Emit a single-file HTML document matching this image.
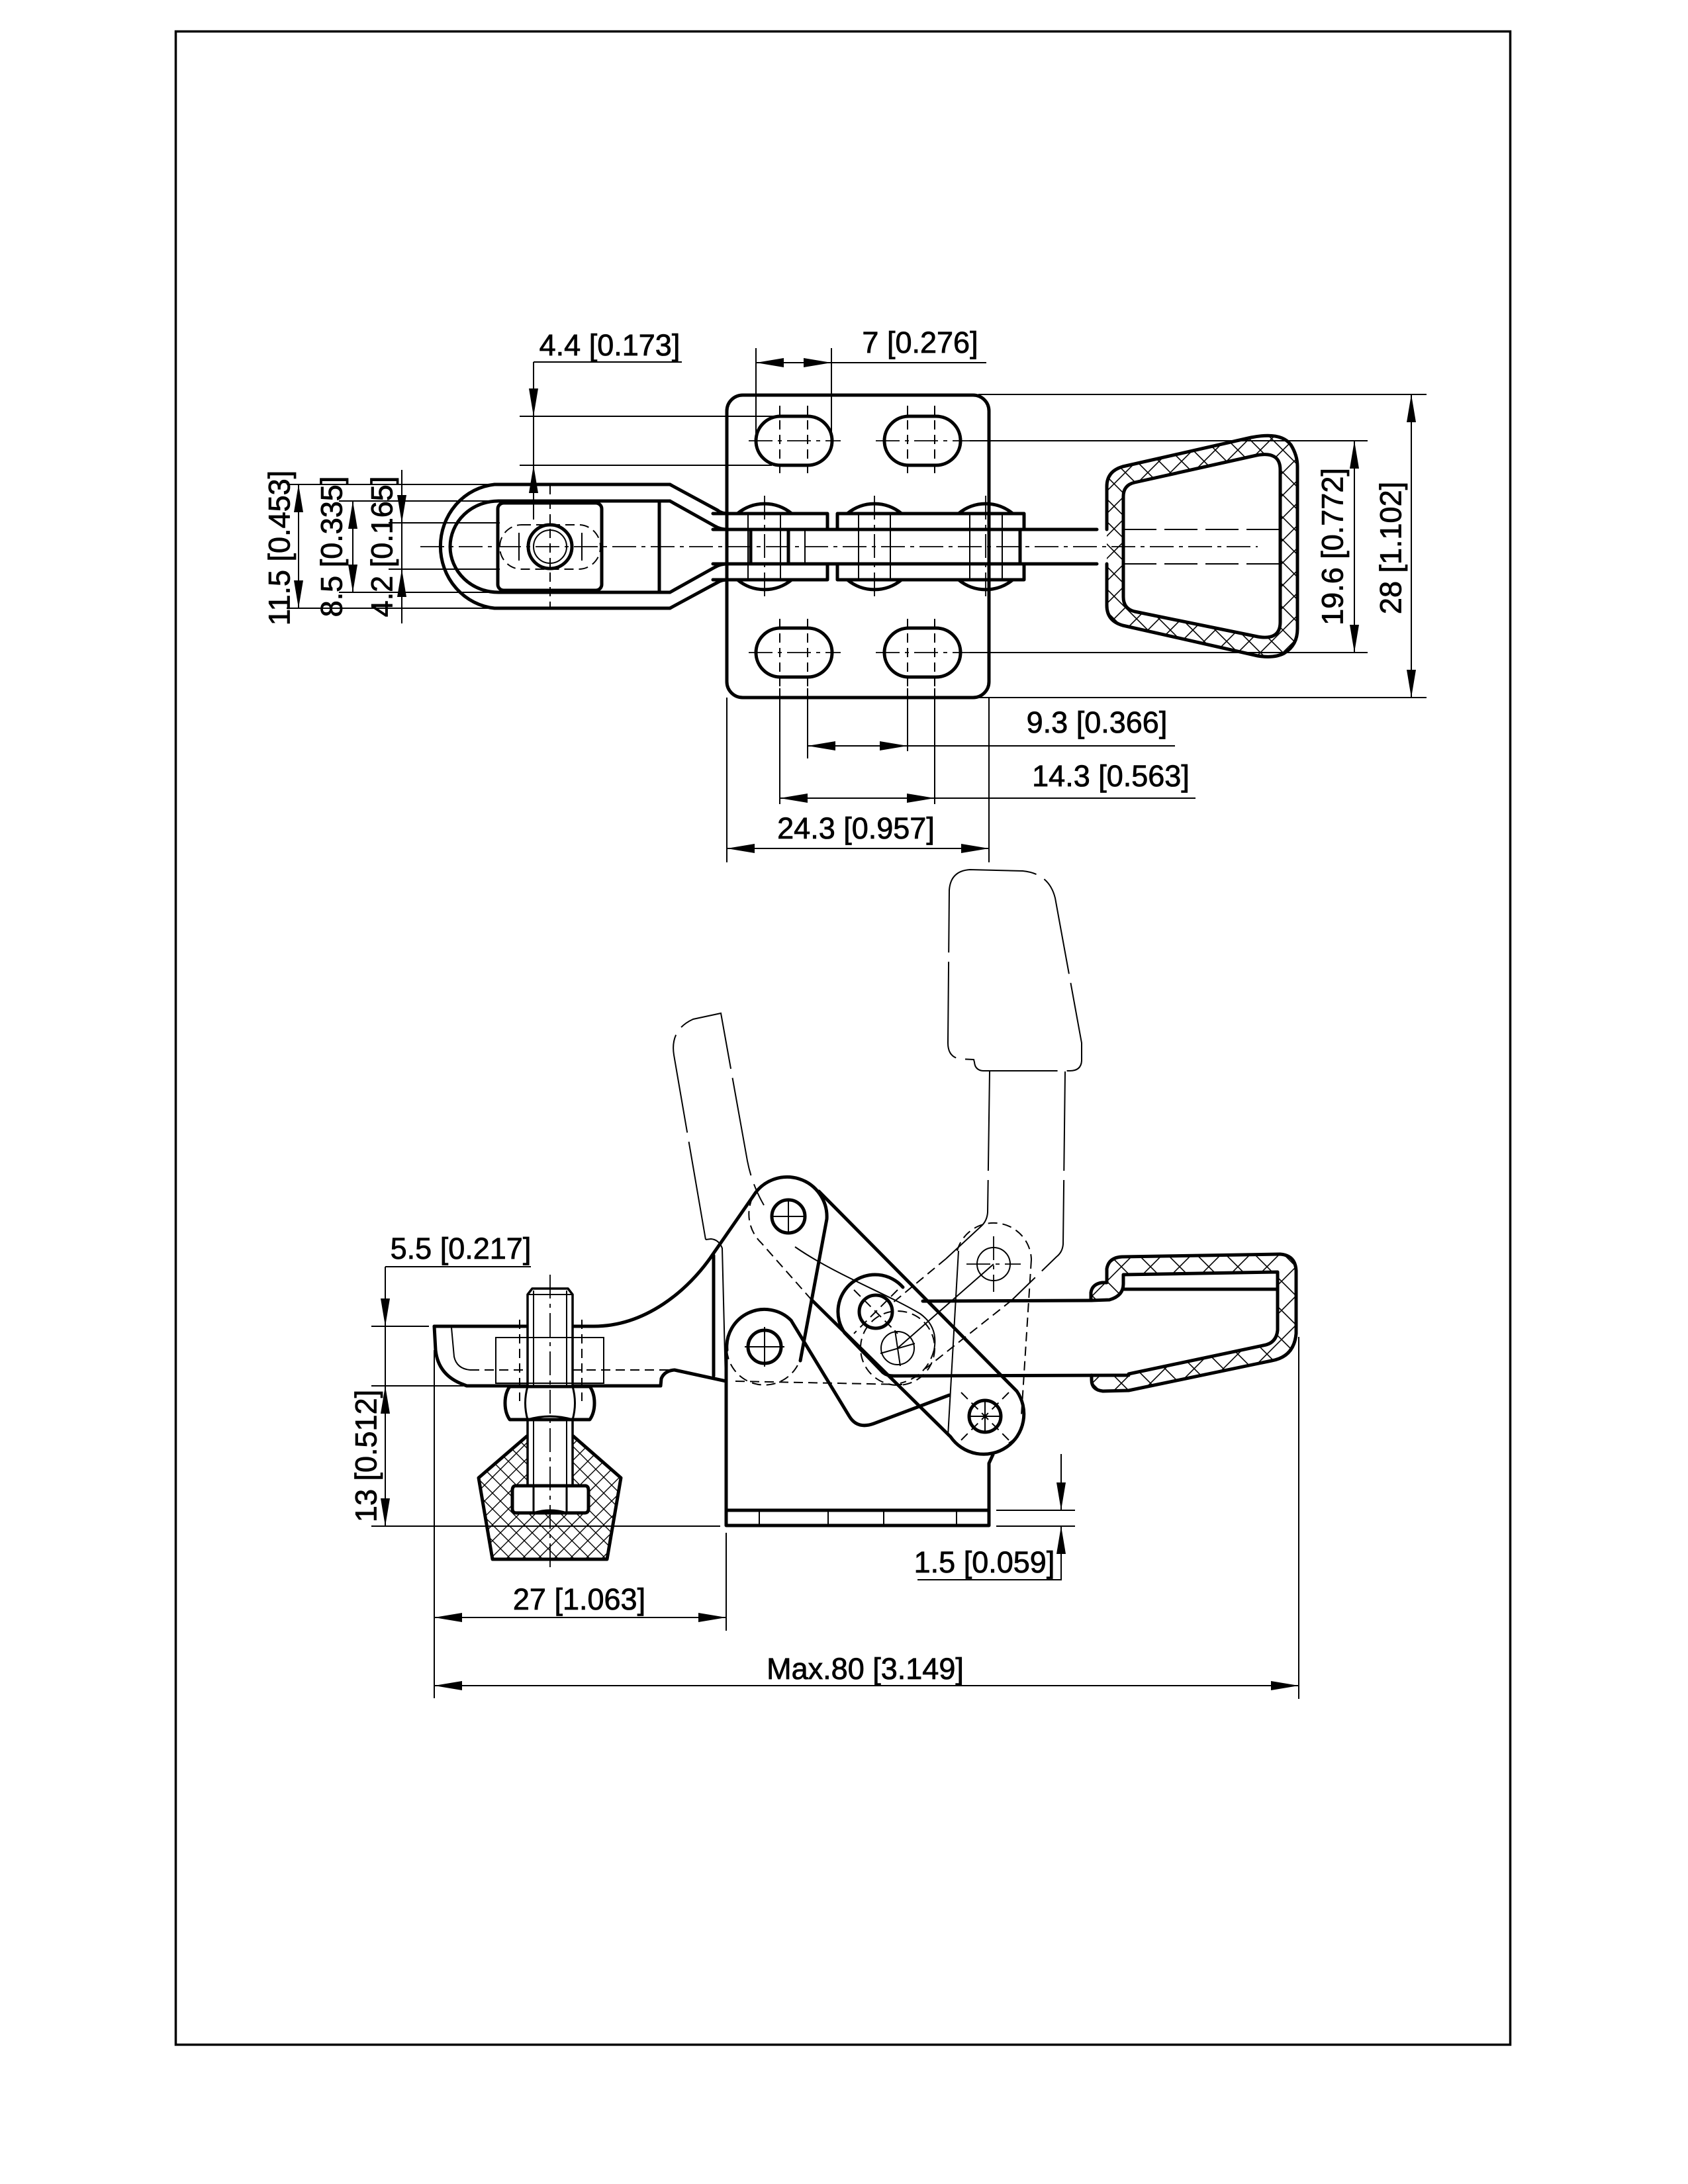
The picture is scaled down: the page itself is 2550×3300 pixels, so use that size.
<!DOCTYPE html>
<html><head><meta charset="utf-8">
<style>
html,body{margin:0;padding:0;background:#fff;}
svg{display:block;}
text{font-family:"Liberation Sans",Arial,sans-serif;font-size:45px;fill:#000;stroke:#000;stroke-width:0.8;}
.k{stroke:#000;stroke-width:5;fill:none;stroke-linejoin:round;stroke-linecap:round;}
.kw{stroke:#000;stroke-width:5;fill:#fff;stroke-linejoin:round;}
.t{stroke:#000;stroke-width:2;fill:none;}
.d{stroke:#000;stroke-width:2;fill:none;stroke-dasharray:14 8;}
.c{stroke:#000;stroke-width:1.8;fill:none;stroke-dasharray:36 8 6 8;}
.p{stroke:#000;stroke-width:2;fill:none;stroke-dasharray:150 14;}
.a{fill:#000;stroke:none;}
</style></head><body>
<svg width="2550" height="3300" viewBox="0 0 2550 3300" xmlns="http://www.w3.org/2000/svg">
<defs>
<pattern id="h1" patternUnits="userSpaceOnUse" width="34" height="34"><path d="M0 0L34 34M34 0L0 34" stroke="#000" stroke-width="1.6"/></pattern>
<pattern id="h2" patternUnits="userSpaceOnUse" width="44" height="44"><path d="M0 0L44 44M44 0L0 44" stroke="#000" stroke-width="1.6"/></pattern>
<pattern id="h3" patternUnits="userSpaceOnUse" width="24" height="24"><path d="M0 0L24 24M24 0L0 24" stroke="#000" stroke-width="1.4"/></pattern>
</defs>

<!-- border -->
<rect x="265.5" y="47.5" width="2016" height="3042" fill="none" stroke="#000" stroke-width="3.5"/>

<!-- ================= TOP VIEW ================= -->
<path class="c" d="M635 826 L1900 826"/>

<!-- eye -->
<path class="k" d="M1012 732 L747 732 A91 94 0 0 0 747 919 L1012 919"/>
<path class="k" d="M1012 732 L1084 771 Q1090 776 1100 776"/>
<path class="k" d="M1012 919 L1084 880 Q1090 876 1100 876"/>
<path class="k" d="M1012 757 L753 757 A73 69 0 0 0 753 895 L1012 895"/>
<path class="k" d="M1012 757 L1080 795 Q1088 800 1100 800"/>
<path class="k" d="M1012 895 L1080 857 Q1088 852 1100 852"/>
<rect class="k" x="752" y="760" width="157" height="132" rx="9"/>
<path class="k" d="M996 757 L996 895"/>
<rect class="d" x="755" y="793" width="152" height="67" rx="33"/>
<circle class="k" cx="831" cy="826" r="33"/>
<circle class="t" cx="831" cy="826" r="25"/>
<path class="t" d="M784 805 L784 847 M879 805 L879 847"/>
<path class="d" d="M831 733 L831 917"/>

<!-- plate -->
<rect class="k" x="1098" y="597" width="396" height="457" rx="24"/>
<rect class="k" x="1142" y="629" width="115" height="74" rx="37"/>
<rect class="k" x="1336" y="629" width="115" height="74" rx="37"/>
<rect class="k" x="1142" y="949" width="115" height="74" rx="37"/>
<rect class="k" x="1336" y="949" width="115" height="74" rx="37"/>
<path class="c" d="M1131 666 L1270 666 M1323 666 L1465 666 M1131 986 L1270 986 M1323 986 L1465 986"/>
<path class="t" d="M1465 666 L2066 666 M1465 986 L2066 986"/>
<path class="d" d="M1178 613 L1178 716 M1220 613 L1220 716 M1371 613 L1371 716 M1412 613 L1412 716"/>
<path class="d" d="M1178 935 L1178 1040 M1220 935 L1220 1040 M1371 935 L1371 1040 M1412 935 L1412 1040"/>
<path class="t" d="M1178 1040 L1178 1215 M1220 1040 L1220 1146 M1371 1040 L1371 1135 M1412 1040 L1412 1215"/>

<!-- links top view -->
<path class="k" d="M1077 776 L1100 776 M1077 876 L1100 876"/>
<path class="k" d="M1100 776 L1250 776 L1250 800"/>
<path class="k" d="M1265 800 L1265 776 L1547 776 L1547 800"/>
<path class="k" d="M1100 876 L1250 876 L1250 852"/>
<path class="k" d="M1265 852 L1265 876 L1547 876 L1547 852"/>
<path class="k" d="M1077 800 L1657 800 M1077 852 L1657 852"/>
<path class="k" d="M1134 800 L1134 852 M1191 800 L1191 852 M1541 800 L1541 852"/>
<path class="k" d="M1114 776 A64 64 0 0 1 1196 776 M1280 776 A64 64 0 0 1 1362 776 M1448 776 A64 64 0 0 1 1530 776"/>
<path class="k" d="M1114 876 A64 64 0 0 0 1196 876 M1280 876 A64 64 0 0 0 1362 876 M1448 876 A64 64 0 0 0 1530 876"/>
<path class="t" d="M1130 776 L1130 876 M1179 776 L1179 876 M1297 776 L1297 876 M1345 776 L1345 876 M1465 776 L1465 876 M1514 776 L1514 876 M1216 800 L1216 852"/>
<path class="c" d="M1155 749 L1155 909 M1321 749 L1321 909 M1489 749 L1489 909"/>

<!-- grip top view -->
<path fill="url(#h1)" fill-rule="evenodd" stroke="none" d="M1672 800 L1672 735 Q1672 712 1696 705 L1890 661 Q1935 652 1950 672 Q1960 688 1960 705 L1960 950 Q1960 975 1940 987 Q1925 995 1900 991 L1696 945 Q1672 938 1672 915 Z M1697 750 Q1697 733 1714 729 L1898 688 Q1934 681 1934 710 L1934 940 Q1934 968 1900 962 L1714 924 Q1697 920 1697 902 Z"/>
<path class="k" d="M1672 800 L1672 735 Q1672 712 1696 705 L1890 661 Q1935 652 1950 672 Q1960 688 1960 705 L1960 950 Q1960 975 1940 987 Q1925 995 1900 991 L1696 945 Q1672 938 1672 915 L1672 852"/>
<path class="k" d="M1697 750 Q1697 733 1714 729 L1898 688 Q1934 681 1934 710 L1934 940 Q1934 968 1900 962 L1714 924 Q1697 920 1697 902 Z"/>
<path class="t" style="stroke-dasharray:50 12" d="M1697 800 L1934 800 M1697 852 L1934 852"/>

<!-- top view dimensions -->
<path class="t" d="M806 547 L806 785 M806 547 L1030 547 M785 629 L1172 629 M785 703 L1166 703"/>
<polygon class="a" points="806,629 799,587 813,587"/>
<polygon class="a" points="806,703 799,745 813,745"/>
<text x="921" y="537" text-anchor="middle">4.4 [0.173]</text>
<path class="t" d="M1142 548 L1490 548 M1142 526 L1142 666 M1256 526 L1256 666"/>
<polygon class="a" points="1142,548 1184,541 1184,555"/>
<polygon class="a" points="1256,548 1214,541 1214,555"/>
<text x="1390" y="533" text-anchor="middle">7 [0.276]</text>
<path class="t" d="M433 732 L747 732 M433 919 L747 919 M451 732 L451 919"/>
<polygon class="a" points="451,732 444,774 458,774"/>
<polygon class="a" points="451,919 444,877 458,877"/>
<path class="t" d="M512 757 L753 757 M512 895 L753 895 M533 757 L533 895"/>
<polygon class="a" points="533,757 526,799 540,799"/>
<polygon class="a" points="533,895 526,853 540,853"/>
<path class="t" d="M587 790 L755 790 M587 860 L755 860 M607 710 L607 942"/>
<polygon class="a" points="607,790 600,748 614,748"/>
<polygon class="a" points="607,860 600,902 614,902"/>
<text transform="translate(422,828) rotate(-90)" text-anchor="middle" dominant-baseline="central">11.5 [0.453]</text>
<text transform="translate(501,826) rotate(-90)" text-anchor="middle" dominant-baseline="central">8.5 [0.335]</text>
<text transform="translate(577,826) rotate(-90)" text-anchor="middle" dominant-baseline="central">4.2 [0.165]</text>
<path class="t" d="M2046 666 L2046 986"/>
<polygon class="a" points="2046,666 2039,708 2053,708"/>
<polygon class="a" points="2046,986 2039,944 2053,944"/>
<path class="t" d="M1478 596 L2155 596 M1478 1054 L2155 1054 M2132 596 L2132 1054"/>
<polygon class="a" points="2132,596 2125,638 2139,638"/>
<polygon class="a" points="2132,1054 2125,1012 2139,1012"/>
<text transform="translate(2013,826) rotate(-90)" text-anchor="middle" dominant-baseline="central">19.6 [0.772]</text>
<text transform="translate(2101,828) rotate(-90)" text-anchor="middle" dominant-baseline="central">28 [1.102]</text>
<path class="t" d="M1220 1127 L1775 1127"/>
<polygon class="a" points="1220,1127 1262,1120 1262,1134"/>
<polygon class="a" points="1371,1127 1329,1120 1329,1134"/>
<text x="1657" y="1107" text-anchor="middle">9.3 [0.366]</text>
<path class="t" d="M1178 1206 L1806 1206"/>
<polygon class="a" points="1178,1206 1220,1199 1220,1213"/>
<polygon class="a" points="1412,1206 1370,1199 1370,1213"/>
<text x="1678" y="1188" text-anchor="middle">14.3 [0.563]</text>
<path class="t" d="M1098 1054 L1098 1303 M1494 1054 L1494 1303 M1098 1282 L1494 1282"/>
<polygon class="a" points="1098,1282 1140,1275 1140,1289"/>
<polygon class="a" points="1494,1282 1452,1275 1452,1289"/>
<text x="1293" y="1267" text-anchor="middle">24.3 [0.957]</text>

<!-- ================= SIDE VIEW ================= -->
<path class="p" d="M1434 1345 Q1436 1316 1465 1314 L1545 1316 Q1585 1320 1594 1357 L1634 1576 L1634 1603 Q1633 1618 1616 1618 L1485 1618 Q1473 1617 1472 1605 L1471 1601 L1450 1600 Q1432 1597 1432 1576 Z"/>
<path class="p" d="M1495 1619 L1492 1832 Q1491 1845 1482 1853 L1429 1902"/>
<path class="d" d="M1429 1902 L1348 1969"/>
<path class="p" d="M1609 1619 L1606 1880 Q1605 1892 1596 1899 L1528 1965"/>
<path class="d" d="M1528 1965 L1398 2068"/>
<path class="p" d="M1066 1873 L1018 1594 Q1012 1556 1047 1540 L1089 1531 L1129 1754 Q1136 1790 1154 1821"/>
<path class="t" d="M1066 1873 L1074 1872 Q1086 1873 1091 1886 L1096 2087"/>
<circle class="t" cx="1501" cy="1910" r="25"/>
<path class="c" d="M1460 1910 L1542 1910 M1501 1868 L1501 1952"/>
<path class="d" d="M1446 1890 A57 57 0 0 1 1558 1903"/>
<path class="t" d="M1448 1890 L1432 2170"/>
<path class="d" d="M1558 1903 L1543 2138"/>
<path class="t" d="M1501 1910 L1356 2037"/>
<path class="t" d="M1201 1884 C1260 1925 1340 1955 1390 1985 Q1418 2005 1411 2040"/>
<path class="d" d="M1411 2040 Q1400 2080 1360 2090 M1111 2087 L1363 2092"/>
<circle class="d" cx="1356" cy="2037" r="56"/>
<circle class="t" cx="1356" cy="2037" r="25"/>
<path class="t" d="M1330 2045 L1382 2030 M1352 2010 L1360 2064"/>

<!-- base -->
<path class="k" d="M1097 2040 L1097 2305 L1494 2305 L1494 2211 L1500 2198"/>
<path class="k" d="M1097 2282 L1494 2282"/>
<path class="t" d="M1147 2282 L1147 2305 M1251 2282 L1251 2305 M1335 2282 L1335 2305 M1445 2282 L1445 2305"/>
<path class="k" d="M1098 2040 A57 57 0 0 1 1195 1995 L1283 2140 Q1295 2160 1320 2151 L1434 2108"/>
<path class="d" d="M1098 2040 A57 57 0 0 0 1210 2050"/>
<circle class="k" cx="1155" cy="2035" r="25"/>
<path class="t" d="M1125 2035 L1185 2035 M1155 2005 L1155 2065"/>

<!-- arm -->
<path class="k" d="M656 2004 L897 2004 C975 2004 1040 1950 1077 1895 L1138 1807 A60 60 0 0 1 1249 1842 L1209 2056"/>
<path class="k" d="M656 2004 L658 2040 Q662 2078 700 2092 L705 2094 L998 2094 L999 2083 Q1004 2071 1019 2070 L1097 2087"/>
<path class="k" d="M1078 1897 L1078 2079"/>
<path class="t" d="M682 2006 L686 2050 Q690 2068 710 2070"/>
<path class="d" d="M710 2070 L1015 2070"/>
<circle class="k" cx="1191" cy="1838" r="25"/>
<path class="t" d="M1164 1838 L1218 1838 M1191 1811 L1191 1865"/>

<!-- long link -->
<path class="k" d="M1237 1800 L1536 2102 A60 60 0 1 1 1436 2171 L1226 1964"/>
<path class="d" d="M1226 1964 L1150 1878 A60 60 0 0 1 1138 1807"/>
<circle class="k" cx="1488" cy="2140" r="24"/>
<path class="d" d="M1452 2104 L1524 2176 M1524 2104 L1452 2176"/>
<path class="t" d="M1462 2140 L1514 2140 M1488 2114 L1488 2166"/>
<path class="d" d="M1540 2110 A52 52 0 0 1 1520 2183"/>

<!-- middle link + handle -->
<path class="k" d="M1276 2014 A56 56 0 0 1 1364 1945"/>
<path class="k" d="M1276 2014 L1334 2074 Q1340 2079 1350 2079 L1705 2078"/>
<path class="k" d="M1394 1966 L1648 1965"/>
<circle class="k" cx="1323" cy="1982" r="25"/>
<path class="d" d="M1290 1949 L1356 2015 M1356 1949 L1290 2015"/>

<!-- grip side view -->
<path fill="url(#h2)" stroke="none" d="M1648 1965 L1648 1953 Q1650 1940 1665 1938 L1672 1938 L1672 1917 Q1675 1900 1695 1899 L1934 1895 Q1957 1897 1958 1920 L1958 2015 Q1955 2050 1921 2056 L1705 2101 L1666 2102 Q1649 2100 1649 2085 L1649 2078 L1705 2076 L1908 2033 Q1928 2030 1930 2010 L1930 1922 L1697 1926 L1697 1940 Q1697 1958 1676 1964 Z"/>
<path class="k" d="M1648 1965 L1648 1953 Q1650 1940 1665 1938 L1672 1938 L1672 1917 Q1675 1900 1695 1899 L1934 1895 Q1957 1897 1958 1920 L1958 2015 Q1955 2050 1921 2056 L1705 2101 L1666 2102 Q1649 2100 1649 2085 L1649 2078"/>
<path class="k" d="M1648 1965 L1676 1964 Q1697 1958 1697 1940 L1697 1926 L1930 1922 L1930 2010 Q1928 2030 1908 2033 L1705 2076"/>
<path class="k" d="M1697 1948 L1930 1948"/>

<!-- spindle & cap -->
<path fill="url(#h3)" stroke="none" d="M796 2170 L723 2233 L744 2356 L917 2356 L938 2233 L866 2170 Z"/>
<path class="k" d="M796 2170 L723 2233 L744 2356 L917 2356 L938 2233 L866 2170"/>
<rect x="797" y="1947" width="68" height="300" fill="#fff" stroke="none"/>
<path class="t" d="M749 2021 L912 2021 L912 2090 L749 2090 Z"/>
<path class="k" style="stroke-width:3.5" d="M797 2247 L797 1956 L804 1947 L858 1947 L865 1956 L865 2247"/>
<path class="t" d="M806 1950 L806 2245 M856 1950 L856 2245 M797 1956 L865 1956"/>
<path class="kw" d="M770 2095 L891 2095 Q898 2105 898 2120 Q898 2135 891 2145 L770 2145 Q763 2135 763 2120 Q763 2105 770 2095 Z"/>
<path class="k" style="stroke-width:3" d="M797 2095 Q790 2120 797 2145 M865 2095 Q872 2120 865 2145 M797 2145 Q831 2135 865 2145"/>
<path class="kw" d="M778 2245 L885 2245 Q889 2246 889 2252 L889 2280 Q889 2286 883 2286 L780 2286 Q774 2286 774 2280 L774 2252 Q774 2246 778 2245 Z"/>
<path class="k" style="stroke-width:3" d="M806 2245 L806 2286 M856 2245 L856 2286 M806 2286 Q831 2278 856 2286"/>
<path class="d" d="M785 1994 L785 2117 M879 1994 L879 2117"/>
<path class="c" d="M831 1926 L831 2369"/>

<!-- side dimensions -->
<path class="t" d="M582 1914 L802 1914 M582 1914 L582 2306"/>
<path class="t" d="M561 2004 L648 2004 M561 2094 L700 2094 M561 2306 L1088 2306"/>
<polygon class="a" points="582,2004 575,1962 589,1962"/>
<polygon class="a" points="582,2094 575,2136 589,2136"/>
<polygon class="a" points="582,2306 575,2264 589,2264"/>
<text x="696" y="1902" text-anchor="middle">5.5 [0.217]</text>
<text transform="translate(553,2200) rotate(-90)" text-anchor="middle" dominant-baseline="central">13 [0.512]</text>

<path class="t" d="M656 2040 L656 2566 M1097 2316 L1097 2464 M1962 2020 L1962 2567"/>
<path class="t" d="M656 2444 L1097 2444"/>
<polygon class="a" points="656,2444 698,2437 698,2451"/>
<polygon class="a" points="1097,2444 1055,2437 1055,2451"/>
<text x="875" y="2432" text-anchor="middle">27 [1.063]</text>
<path class="t" d="M656 2547 L1962 2547"/>
<polygon class="a" points="656,2547 698,2540 698,2554"/>
<polygon class="a" points="1962,2547 1920,2540 1920,2554"/>
<text x="1307" y="2537" text-anchor="middle">Max.80 [3.149]</text>

<path class="t" d="M1505 2282 L1624 2282 M1505 2306 L1624 2306 M1603 2197 L1603 2282 M1603 2306 L1603 2387 L1386 2387"/>
<polygon class="a" points="1603,2282 1596,2240 1610,2240"/>
<polygon class="a" points="1603,2306 1596,2348 1610,2348"/>
<text x="1487" y="2376" text-anchor="middle">1.5 [0.059]</text>
</svg>
</body></html>
